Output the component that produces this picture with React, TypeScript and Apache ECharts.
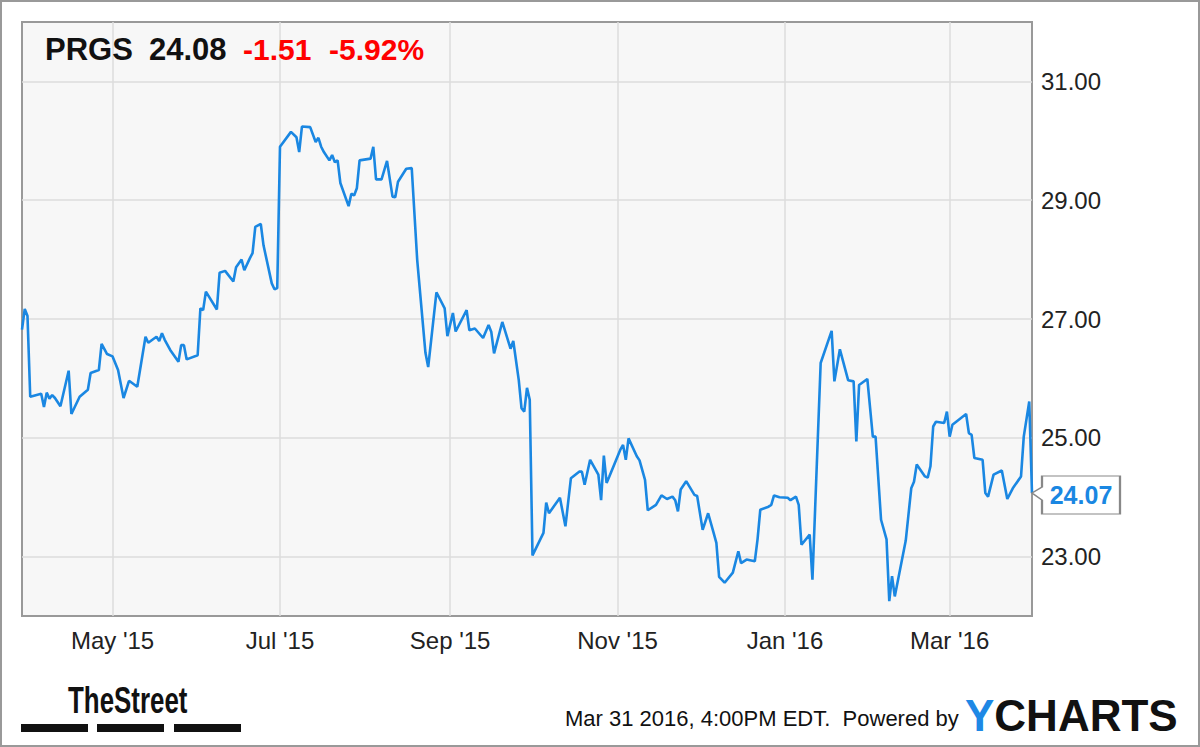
import React, { useEffect, useRef } from 'react';
import * as echarts from 'echarts';

const ticker = 'PRGS';
const lastPrice = '24.08';
const change = '-1.51';
const changePct = '-5.92%';
const calloutValue = 24.07;

const xMin = '2015-03-29';
const xMax = '2016-03-31';
const xTickDates = ['2015-05-01', '2015-07-01', '2015-09-01', '2015-11-01', '2016-01-01', '2016-03-01'];
const xTickLabels = ["May '15", "Jul '15", "Sep '15", "Nov '15", "Jan '16", "Mar '16"];
const yMin = 22;
const yMax = 32;
const yTicks = [23, 25, 27, 29, 31];

const footerText = 'Mar 31 2016, 4:00PM EDT.  Powered by';

const dates = [
  '2015-03-29', '2015-03-30', '2015-03-31', '2015-04-01', '2015-04-05', '2015-04-06', '2015-04-07', '2015-04-08',
  '2015-04-09', '2015-04-10', '2015-04-12', '2015-04-15', '2015-04-16', '2015-04-19', '2015-04-22', '2015-04-23',
  '2015-04-26', '2015-04-27', '2015-04-29', '2015-05-01', '2015-05-03', '2015-05-05', '2015-05-07', '2015-05-10',
  '2015-05-13', '2015-05-14', '2015-05-17', '2015-05-18', '2015-05-19', '2015-05-20', '2015-05-22', '2015-05-25',
  '2015-05-26', '2015-05-27', '2015-05-28', '2015-06-01', '2015-06-02', '2015-06-03', '2015-06-04', '2015-06-08',
  '2015-06-09', '2015-06-11', '2015-06-14', '2015-06-15', '2015-06-17', '2015-06-18', '2015-06-20', '2015-06-21',
  '2015-06-22', '2015-06-24', '2015-06-25', '2015-06-28', '2015-06-29', '2015-06-30', '2015-07-01', '2015-07-05',
  '2015-07-07', '2015-07-08', '2015-07-09', '2015-07-12', '2015-07-14', '2015-07-15', '2015-07-16', '2015-07-17',
  '2015-07-19', '2015-07-20', '2015-07-21', '2015-07-22', '2015-07-23', '2015-07-26', '2015-07-27', '2015-07-28',
  '2015-07-29', '2015-07-30', '2015-08-03', '2015-08-04', '2015-08-05', '2015-08-07', '2015-08-09', '2015-08-11',
  '2015-08-12', '2015-08-13', '2015-08-16', '2015-08-18', '2015-08-20', '2015-08-23', '2015-08-24', '2015-08-27',
  '2015-08-30', '2015-08-31', '2015-09-02', '2015-09-03', '2015-09-07', '2015-09-08', '2015-09-10', '2015-09-13',
  '2015-09-15', '2015-09-16', '2015-09-17', '2015-09-20', '2015-09-23', '2015-09-24', '2015-09-26', '2015-09-27',
  '2015-09-28', '2015-09-29', '2015-09-30', '2015-10-01', '2015-10-05', '2015-10-06', '2015-10-07', '2015-10-11',
  '2015-10-13', '2015-10-15', '2015-10-18', '2015-10-19', '2015-10-20', '2015-10-22', '2015-10-25', '2015-10-26',
  '2015-10-27', '2015-10-28', '2015-10-29', '2015-11-02', '2015-11-03', '2015-11-04', '2015-11-05', '2015-11-08',
  '2015-11-09', '2015-11-11', '2015-11-12', '2015-11-15', '2015-11-17', '2015-11-19', '2015-11-21', '2015-11-22',
  '2015-11-23', '2015-11-24', '2015-11-26', '2015-11-29', '2015-11-30', '2015-12-02', '2015-12-04', '2015-12-06',
  '2015-12-07', '2015-12-08', '2015-12-10', '2015-12-13', '2015-12-15', '2015-12-16', '2015-12-18', '2015-12-21',
  '2015-12-22', '2015-12-23', '2015-12-26', '2015-12-27', '2015-12-28', '2015-12-30', '2016-01-02', '2016-01-03',
  '2016-01-05', '2016-01-06', '2016-01-07', '2016-01-10', '2016-01-11', '2016-01-14', '2016-01-18', '2016-01-19',
  '2016-01-21', '2016-01-24', '2016-01-26', '2016-01-27', '2016-01-28', '2016-01-31', '2016-02-02', '2016-02-03',
  '2016-02-05', '2016-02-07', '2016-02-08', '2016-02-09', '2016-02-10', '2016-02-14', '2016-02-16', '2016-02-17',
  '2016-02-18', '2016-02-21', '2016-02-22', '2016-02-23', '2016-02-24', '2016-02-25', '2016-02-28', '2016-02-29',
  '2016-03-01', '2016-03-02', '2016-03-07', '2016-03-08', '2016-03-09', '2016-03-10', '2016-03-13', '2016-03-14',
  '2016-03-15', '2016-03-17', '2016-03-20', '2016-03-22', '2016-03-24', '2016-03-27', '2016-03-28', '2016-03-30',
  '2016-03-31',
];

const prices = [
  26.82, 27.17, 27.05, 25.69, 25.74, 25.52, 25.76, 25.66,
  25.72, 25.67, 25.53, 26.13, 25.40, 25.69, 25.81, 26.09,
  26.14, 26.58, 26.41, 26.37, 26.14, 25.67, 25.96, 25.86,
  26.70, 26.60, 26.70, 26.63, 26.76, 26.65, 26.48, 26.28,
  26.56, 26.56, 26.32, 26.39, 27.18, 27.15, 27.46, 27.16,
  27.78, 27.81, 27.63, 27.87, 28.00, 27.82, 28.02, 28.11,
  28.55, 28.60, 28.24, 27.60, 27.50, 27.52, 29.90, 30.15,
  30.06, 29.81, 30.24, 30.23, 29.98, 30.05, 29.90, 29.81,
  29.67, 29.76, 29.64, 29.67, 29.29, 28.90, 29.11, 29.08,
  29.20, 29.67, 29.70, 29.90, 29.35, 29.35, 29.66, 29.06,
  29.05, 29.31, 29.53, 29.54, 27.99, 26.43, 26.19, 27.45,
  27.18, 26.71, 27.10, 26.79, 27.15, 26.81, 26.84, 26.68,
  26.90, 26.78, 26.42, 26.95, 26.50, 26.63, 25.97, 25.50,
  25.44, 25.84, 25.64, 23.02, 23.40, 23.91, 23.73, 23.99,
  23.51, 24.32, 24.43, 24.43, 24.21, 24.63, 24.38, 23.95,
  24.70, 24.24, 24.35, 24.80, 24.88, 24.63, 24.99, 24.69,
  24.62, 24.29, 23.78, 23.87, 24.03, 23.97, 24.01, 23.95,
  23.76, 24.13, 24.27, 24.04, 24.02, 23.45, 23.73, 23.40,
  23.23, 22.66, 22.56, 22.73, 23.09, 22.89, 22.95, 22.92,
  23.29, 23.79, 23.84, 23.87, 24.03, 24.00, 23.99, 23.95,
  24.01, 23.87, 23.20, 23.37, 22.61, 26.26, 26.80, 25.95,
  26.49, 25.97, 25.95, 24.94, 25.89, 25.99, 25.02, 25.02,
  23.62, 23.29, 22.25, 22.67, 22.33, 23.27, 24.15, 24.26,
  24.55, 24.35, 24.33, 24.52, 25.19, 25.27, 25.25, 25.44,
  25.02, 25.22, 25.40, 25.08, 25.05, 24.66, 24.63, 24.07,
  24.01, 24.38, 24.45, 23.97, 24.15, 24.35, 25.02, 25.61,
  24.07,
];

const FONT = '"Liberation Sans", Arial, Helvetica, sans-serif';
const LINE_BLUE = '#1a87e2';

const toTs = (s: string) => {
  const [y, m, d] = s.split('-').map(Number);
  return Date.UTC(y, m - 1, d);
};

export default function App() {
  const ref = useRef<HTMLDivElement>(null);

  useEffect(() => {
    if (!ref.current) return;
    const chart = echarts.init(ref.current, undefined, { renderer: 'svg' });
    const xTickTs = xTickDates.map(toTs);
    const seriesData = dates.map((d, i) => [toTs(d), prices[i]]);
    const last = seriesData[seriesData.length - 1];

    chart.setOption({
      animation: false,
      backgroundColor: '#ffffff',
      textStyle: { fontFamily: FONT },
      grid: {
        left: 22,
        top: 22,
        width: 1010,
        height: 594,
        show: true,
        backgroundColor: '#f7f7f7',
        borderColor: '#999999',
        borderWidth: 2,
      },
      xAxis: {
        type: 'value',
        min: toTs(xMin),
        max: toTs(xMax),
        axisLine: { show: false },
        axisTick: { show: false, customValues: xTickTs },
        axisLabel: {
          customValues: xTickTs,
          color: '#222',
          fontSize: 24,
          fontFamily: FONT,
          margin: 12,
          formatter: (v: number) => {
            const idx = xTickTs.findIndex((t) => Math.abs(t - v) < 43200000);
            return idx >= 0 ? xTickLabels[idx] : '';
          },
        },
        splitLine: { show: true, lineStyle: { color: '#dddddd', width: 1.5 } },
      },
      yAxis: {
        type: 'value',
        position: 'right',
        min: yMin,
        max: yMax,
        axisLine: { show: false },
        axisTick: { show: false, customValues: yTicks },
        axisLabel: {
          customValues: yTicks,
          color: '#222',
          fontSize: 24,
          fontFamily: FONT,
          margin: 9,
          formatter: (v: number) => v.toFixed(2),
        },
        splitLine: { show: true, lineStyle: { color: '#dddddd', width: 1.5 } },
      },
      series: [
        {
          type: 'line',
          data: seriesData,
          showSymbol: false,
          symbol: 'none',
          lineStyle: { color: LINE_BLUE, width: 2.6 },
          silent: true,
          markPoint: {
            silent: true,
            symbol: 'path://M10,0 L88,0 L88,38 L10,38 L10,24 L0,17 L10,11 Z',
            symbolSize: [88, 38],
            symbolOffset: [44, 2],
            itemStyle: { color: '#ffffff', borderColor: '#888888', borderWidth: 1.5 },
            label: {
              show: true,
              position: 'inside',
              offset: [5, 0],
              formatter: calloutValue.toFixed(2),
              color: LINE_BLUE,
              fontWeight: 'bold',
              fontSize: 25,
              fontFamily: FONT,
            },
            data: [{ coord: last, value: calloutValue }],
          },
        },
      ],
      graphic: [
        {
          type: 'rect',
          silent: true,
          z: 100,
          shape: { x: 1, y: 1, width: 1198, height: 745 },
          style: { fill: 'none', stroke: '#999999', lineWidth: 2 },
        },
        {
          type: 'text', x: 45, y: 49, z: 50,
          style: { text: ticker, fill: '#111', font: `bold 31px ${FONT}`, verticalAlign: 'middle' },
        },
        {
          type: 'text', x: 149, y: 49, z: 50,
          style: { text: lastPrice, fill: '#111', font: `bold 31px ${FONT}`, verticalAlign: 'middle' },
        },
        {
          type: 'text', x: 243, y: 49, z: 50,
          style: { text: change, fill: '#ff0000', font: `bold 30px ${FONT}`, verticalAlign: 'middle' },
        },
        {
          type: 'text', x: 329, y: 49, z: 50,
          style: { text: changePct, fill: '#ff0000', font: `bold 30px ${FONT}`, verticalAlign: 'middle' },
        },
        {
          type: 'text', x: 68, y: 700, z: 50, scaleX: 0.7,
          style: {
            text: 'TheStreet',
            fill: '#111',
            font: `bold 37px ${FONT}`,
            verticalAlign: 'middle',
          },
        },
        { type: 'rect', shape: { x: 21, y: 724, width: 67, height: 8 }, style: { fill: '#111' } },
        { type: 'rect', shape: { x: 97, y: 724, width: 67, height: 8 }, style: { fill: '#111' } },
        { type: 'rect', shape: { x: 174, y: 724, width: 67, height: 8 }, style: { fill: '#111' } },
        {
          type: 'text', x: 565, y: 718, z: 50,
          style: { text: footerText, fill: '#111', font: `22px ${FONT}`, verticalAlign: 'middle' },
        },
        {
          type: 'text', x: 965, y: 715, z: 50,
          style: {
            text: '{y|Y}{r|CHARTS}',
            verticalAlign: 'middle',
            rich: {
              y: { fill: '#1e88e5', font: `bold 44px ${FONT}` },
              r: { fill: '#111', font: `bold 44px ${FONT}` },
            },
          },
        },
      ],
    });

    return () => chart.dispose();
  }, []);

  return (
    <div
      ref={ref}
      style={{ position: 'absolute', left: 0, top: 0, width: 1200, height: 747 }}
    />
  );
}
